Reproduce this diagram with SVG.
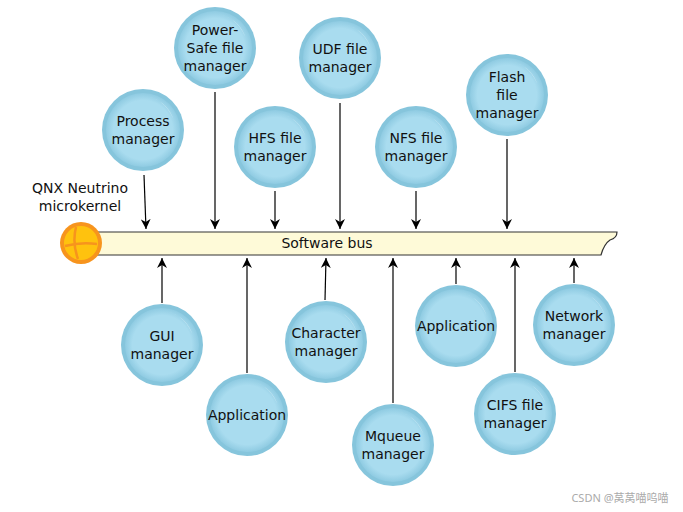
<svg xmlns="http://www.w3.org/2000/svg" width="683" height="512" viewBox="0 0 683 512">
<defs>
<radialGradient id="bg" cx="0.5" cy="0.5" r="0.5"><stop offset="0.8" stop-color="#a9dcef"/><stop offset="1" stop-color="#8fcbe2"/></radialGradient>
<marker id="ah" viewBox="0 0 10 10" refX="10" refY="5" markerWidth="10" markerHeight="10" markerUnits="userSpaceOnUse" orient="auto"><path d="M0,0 L10,5 L0,10 L3,5 Z" fill="#000"/></marker>
<style>
text{font-family:"DejaVu Sans",sans-serif;font-size:14px;fill:#111;text-anchor:middle}
.c line{stroke:#000;stroke-width:1.2;marker-end:url(#ah)}
</style>
<g id="bubble"><circle r="41" fill="#86c5dc"/><circle r="37" fill="url(#bg)"/><path d="M6,-33 A33,33 0 0 1 31,-8 A15,24 -40 0 0 6,-33 Z" fill="#fff" opacity="0.55"/></g>
</defs>
<g class="c">
<line x1="144" y1="175" x2="146" y2="229"/>
<line x1="215" y1="92" x2="215" y2="229"/>
<line x1="275" y1="191" x2="275" y2="229"/>
<line x1="340" y1="103" x2="340" y2="229"/>
<line x1="416" y1="191" x2="416" y2="229"/>
<line x1="507" y1="139" x2="507" y2="229"/>
<line x1="162" y1="303" x2="162" y2="258"/>
<line x1="247" y1="373" x2="247" y2="258"/>
<line x1="325" y1="300" x2="326" y2="258"/>
<line x1="393" y1="403" x2="393" y2="258"/>
<line x1="456" y1="284" x2="456" y2="258"/>
<line x1="515" y1="372" x2="515" y2="258"/>
<line x1="574" y1="283" x2="574" y2="258"/>
</g>
<g id="bus"><path d="M95,232 L617,232 Q617,238 610,240 Q604,244 601,255 L95,255 Z" fill="#fefad8" stroke="#333" stroke-width="1.2"/><text x="327" y="248">Software bus</text></g>
<g id="kernel"><circle cx="81" cy="243" r="21" fill="#f7941d"/><circle cx="81" cy="243" r="17" fill="#ffc20e"/><path d="M76,227 Q72,243 78,259 M65,246 Q80,242 97,244" fill="none" stroke="#f7941d" stroke-width="2.5"/>
<text x="80" y="193">QNX Neutrino</text><text x="80" y="211">microkernel</text></g>
<g id="n1" transform="translate(143,130)"><use href="#bubble"/><text y="-4">Process</text><text y="14">manager</text></g>
<g id="n2" transform="translate(215,48)"><use href="#bubble"/><text y="-13">Power-</text><text y="5">Safe file</text><text y="23">manager</text></g>
<g id="n3" transform="translate(275,147)"><use href="#bubble"/><text y="-4">HFS file</text><text y="14">manager</text></g>
<g id="n4" transform="translate(340,58)"><use href="#bubble"/><text y="-4">UDF file</text><text y="14">manager</text></g>
<g id="n5" transform="translate(416,147)"><use href="#bubble"/><text y="-4">NFS file</text><text y="14">manager</text></g>
<g id="n6" transform="translate(507,95)"><use href="#bubble"/><text y="-13">Flash</text><text y="5">file</text><text y="23">manager</text></g>
<g id="n7" transform="translate(162,345)"><use href="#bubble"/><text y="-4">GUI</text><text y="14">manager</text></g>
<g id="n8" transform="translate(247,415)"><use href="#bubble"/><text y="5">Application</text></g>
<g id="n9" transform="translate(326,342)"><use href="#bubble"/><text y="-4">Character</text><text y="14">manager</text></g>
<g id="n10" transform="translate(393,445)"><use href="#bubble"/><text y="-4">Mqueue</text><text y="14">manager</text></g>
<g id="n11" transform="translate(456,326)"><use href="#bubble"/><text y="5">Application</text></g>
<g id="n12" transform="translate(515,414)"><use href="#bubble"/><text y="-4">CIFS file</text><text y="14">manager</text></g>
<g id="n13" transform="translate(574,325)"><use href="#bubble"/><text y="-4">Network</text><text y="14">manager</text></g>
<text x="620" y="502" style="font-family:'Noto Sans','Noto Sans CJK SC',sans-serif;font-size:11px;fill:#aaa">CSDN @莴莴喵呜喵</text>
</svg>
